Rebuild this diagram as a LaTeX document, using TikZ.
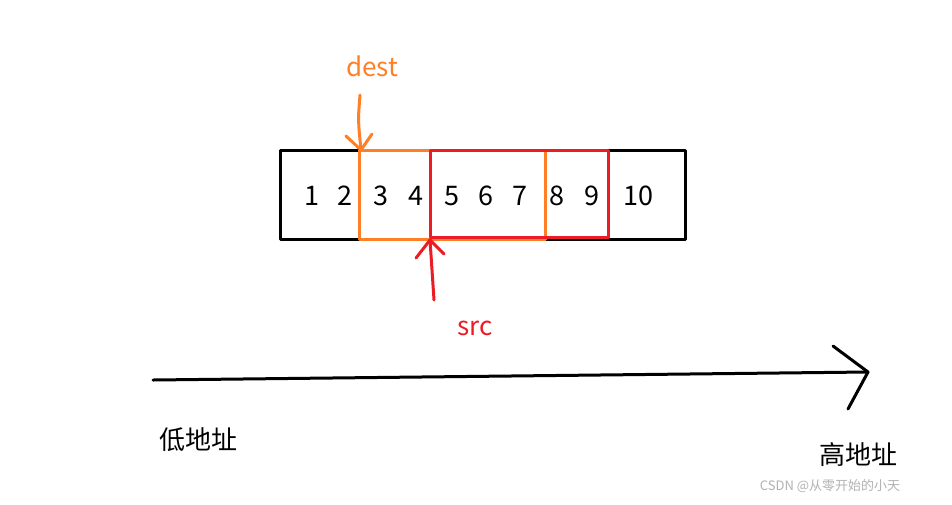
\documentclass[tikz,border=0pt]{standalone}
\usepackage{fontspec}
\setmainfont{Noto Sans CJK SC}
\definecolor{org}{HTML}{FF7F27}
\definecolor{rd}{HTML}{ED1C24}
\begin{document}
\begin{tikzpicture}[x=1pt,y=-1pt,
  num/.style={font=\fontsize{27}{30}\selectfont,inner sep=0pt},
  lbl/.style={font=\fontsize{26}{30}\selectfont,inner sep=0pt},
  pen/.style={line width=3pt,line cap=round,line join=round}]
\useasboundingbox[fill=white] (0,0) rectangle (952,504);
\draw[pen] (280,150) rectangle (685,239);
\draw[pen,org] (359,150) rectangle (545,239);
\draw[pen,rd] (430,150) rectangle (608,237);
\foreach \t/\x in {1/312,2/345,3/381,4/416,5/452,6/486,7/520,8/557,9/592,10/638}
  \node[num] (n\t) at (\x,196) {\t};
\node[lbl,org] (dest) at (372,66) {dest};
\node[lbl,rd] (src) at (475,328) {src};
\coordinate (dt) at (361,150);
\coordinate (st) at (430,240);
\draw[pen,org] (dest.south west) ++(-10,10) coordinate (d0) (360,95) .. controls (358,120) .. (dt);
\draw[pen,org] (346,136) -- (dt) -- (372,134);
\draw[pen,rd] (434,300) .. controls (432,270) .. (st);
\draw[pen,rd] (416,258) -- (st) -- (444,254);
\coordinate (a0) at (153,380);
\coordinate (a1) at (868,372);
\draw[pen] (a0) -- (a1);
\draw[pen] (833,346) -- (a1) -- (848,409);
\node[lbl] (lo) at (198,440) {低地址};
\node[lbl] (hi) at (858,455) {高地址};
\node[font=\fontsize{13}{15}\selectfont,text=gray!60,inner sep=0pt] (wm) at (830,486) {CSDN @从零开始的小天};
\end{tikzpicture}
\end{document}
